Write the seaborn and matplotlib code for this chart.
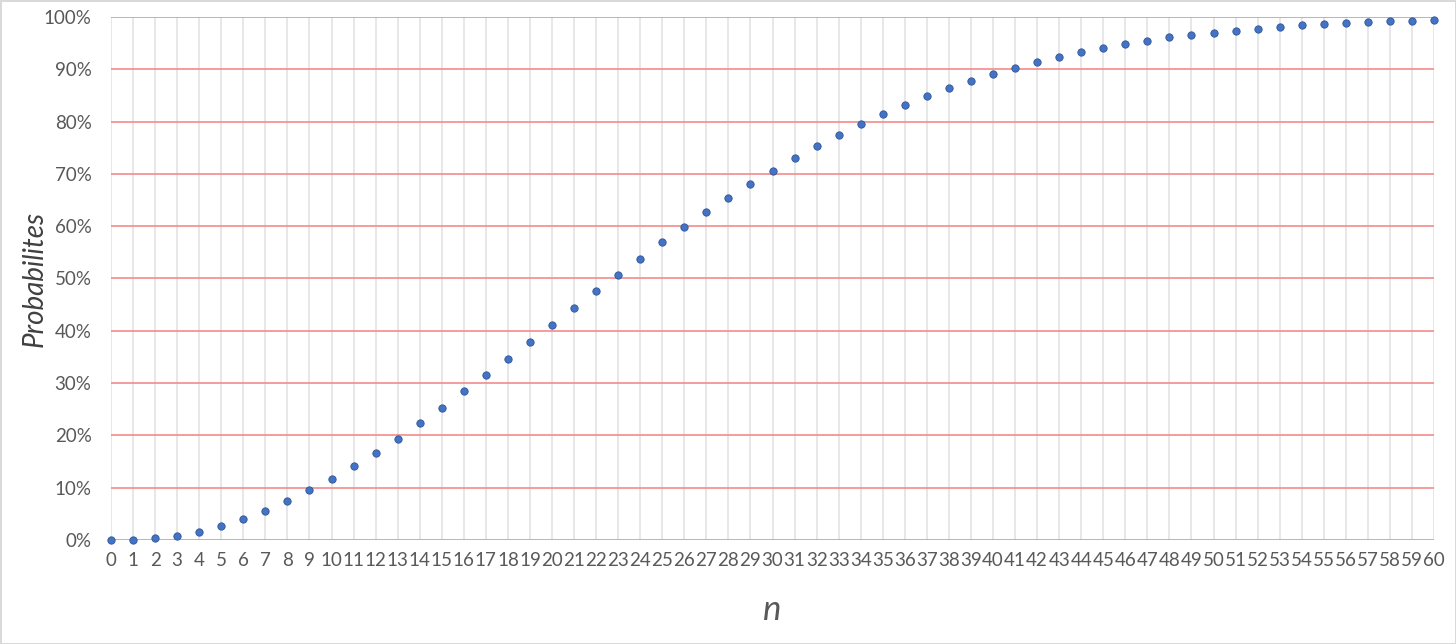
import matplotlib
matplotlib.use('Agg')
import matplotlib.pyplot as plt
import seaborn as sns
import pandas as pd
from matplotlib.ticker import PercentFormatter, MultipleLocator

# Valeurs
n_values = list(range(0, 61))
probabilites = [
    0.000, 0.000, 0.003, 0.008, 0.016, 0.027, 0.040, 0.056, 0.074, 0.095,
    0.117, 0.141, 0.167, 0.194, 0.223, 0.253, 0.284, 0.315, 0.347, 0.379,
    0.411, 0.444, 0.476, 0.507, 0.538, 0.569, 0.598, 0.627, 0.654, 0.681,
    0.706, 0.730, 0.753, 0.775, 0.795, 0.814, 0.832, 0.849, 0.864, 0.878,
    0.891, 0.903, 0.914, 0.924, 0.933, 0.941, 0.948, 0.955, 0.961, 0.966,
    0.970, 0.974, 0.978, 0.981, 0.984, 0.986, 0.988, 0.990, 0.992, 0.993,
    0.994,
]

df = pd.DataFrame({'n': n_values, 'p': probabilites})

sns.set_style('white')
plt.rcParams['font.family'] = ['Lato', 'DejaVu Sans']

fig = plt.figure(figsize=(14.56, 6.44), dpi=100)
fig.patch.set_edgecolor('#d9d9d9')
fig.patch.set_linewidth(2)
ax = fig.add_axes([111 / 1456, 1 - 540 / 644, (1434 - 111) / 1456, (540 - 17) / 644])

sns.scatterplot(data=df, x='n', y='p', ax=ax, s=28, color='#4472C4',
                edgecolor='#2F5597', linewidth=0.6, zorder=3, clip_on=False)

ax.set_xlim(0, 60)
ax.set_ylim(0, 1)
ax.xaxis.set_major_locator(MultipleLocator(1))
ax.yaxis.set_major_locator(MultipleLocator(0.1))
ax.yaxis.set_major_formatter(PercentFormatter(1.0, decimals=0))

ax.grid(axis='x', color='#e3e3e3', linewidth=1.2, zorder=0)
ax.grid(axis='y', color='#f28b8b', linewidth=1.2, zorder=1)
ax.set_axisbelow(True)
for side in ax.spines.values():
    side.set_visible(False)

ax.tick_params(axis='both', length=0, labelsize=13.5, labelcolor='#595959')
ax.tick_params(axis='x', pad=9)
ax.tick_params(axis='y', pad=14)

ax.set_xlabel('n', fontsize=25, style='italic', color='#595959', labelpad=18)
ax.set_ylabel('Probabilites', fontsize=20, style='italic', color='#404040', labelpad=-3)

fig.savefig('out.png', dpi=100, edgecolor=fig.get_edgecolor())
